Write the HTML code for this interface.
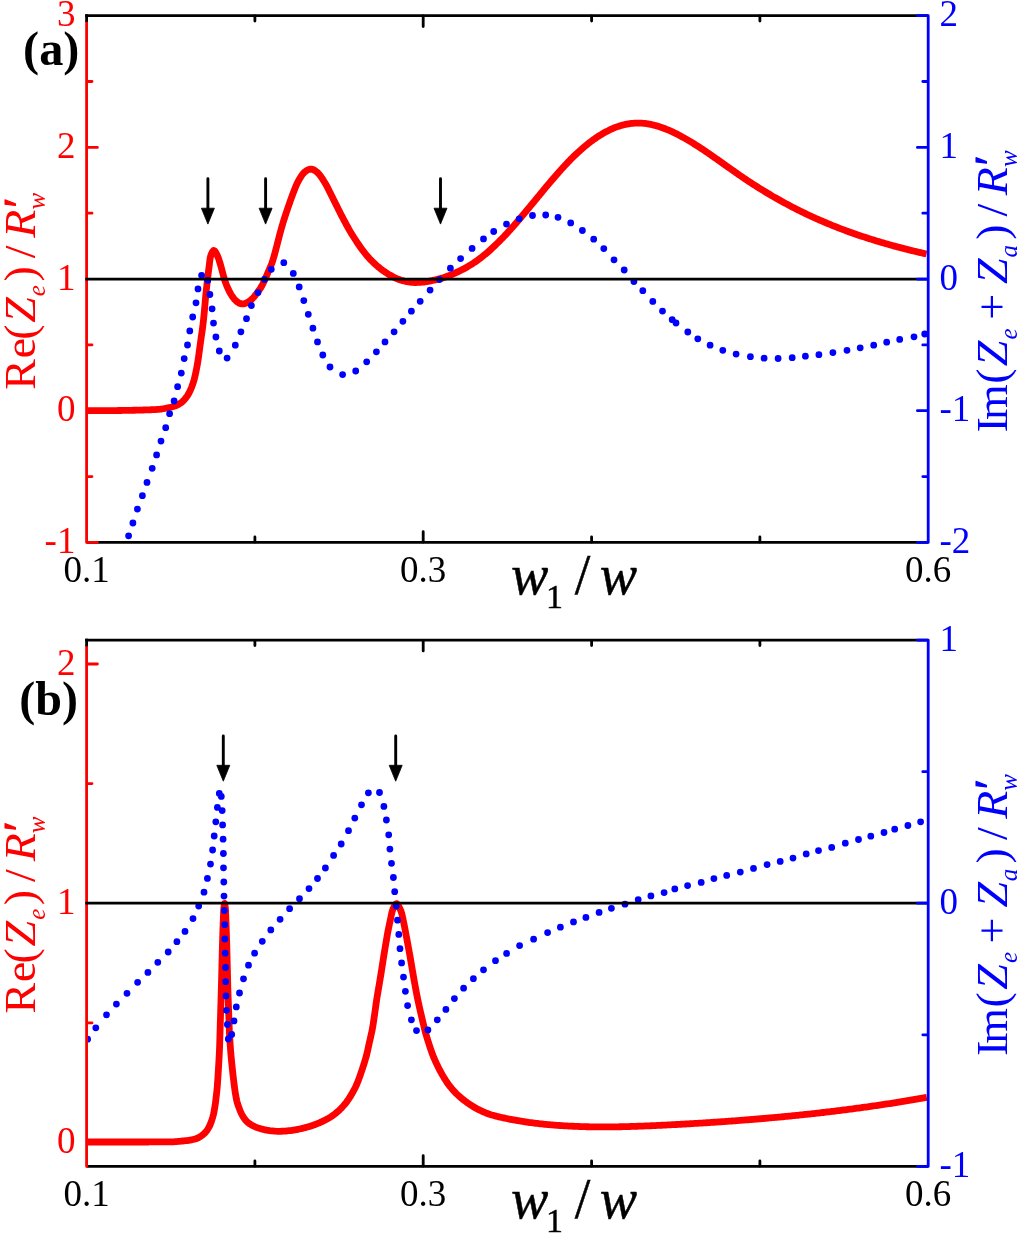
<!DOCTYPE html>
<html><head><meta charset="utf-8"><title>Figure</title>
<style>
html,body{margin:0;padding:0;background:#fff}
body{width:1020px;height:1234px;overflow:hidden}
svg text{font-family:"Liberation Serif","DejaVu Serif",serif}
</style></head><body>
<svg width="1020" height="1234" viewBox="0 0 1020 1234" style="display:block">
<rect width="100%" height="100%" fill="#fff"/>
<defs><clipPath id="ca"><rect x="86.6" y="15.7" width="841.6" height="526.6999999999999"/></clipPath><clipPath id="cb"><rect x="86.6" y="640.1" width="841.6" height="526.3000000000001"/></clipPath></defs>
<path clip-path="url(#ca)" d="M86.70,410.60 L88.20,410.61 L89.70,410.61 L91.20,410.62 L92.69,410.63 L94.19,410.63 L95.69,410.63 L97.19,410.63 L98.69,410.64 L100.19,410.63 L101.68,410.63 L103.18,410.63 L104.68,410.63 L106.18,410.62 L107.68,410.61 L109.17,410.61 L110.67,410.60 L112.17,410.58 L113.67,410.57 L115.17,410.56 L116.67,410.54 L118.16,410.52 L119.66,410.50 L121.16,410.48 L122.66,410.46 L124.16,410.44 L125.65,410.41 L127.15,410.38 L128.65,410.35 L130.15,410.32 L131.65,410.29 L133.14,410.26 L134.64,410.23 L136.14,410.19 L137.64,410.16 L139.14,410.12 L140.63,410.08 L142.13,410.04 L143.63,410.00 L145.13,409.95 L146.62,409.91 L148.12,409.86 L149.62,409.81 L151.12,409.76 L152.61,409.70 L154.11,409.63 L155.61,409.55 L157.10,409.46 L158.60,409.36 L160.09,409.21 L161.57,409.01 L163.05,408.76 L164.53,408.50 L166.00,408.23 L167.48,407.96 L168.94,407.64 L170.40,407.30 L171.84,406.92 L173.29,406.51 L174.73,406.06 L176.13,405.54 L177.49,404.91 L178.80,404.20 L180.09,403.39 L181.34,402.51 L182.51,401.55 L183.60,400.53 L184.61,399.44 L185.57,398.28 L186.47,397.06 L187.32,395.82 L188.12,394.56 L188.86,393.26 L189.53,391.92 L190.18,390.56 L190.79,389.19 L191.37,387.82 L191.91,386.42 L192.42,385.00 L192.91,383.59 L193.38,382.16 L193.82,380.73 L194.22,379.29 L194.59,377.84 L194.93,376.38 L195.27,374.92 L195.59,373.46 L195.90,371.99 L196.20,370.52 L196.48,369.05 L196.77,367.58 L197.05,366.11 L197.32,364.63 L197.58,363.16 L197.81,361.68 L198.04,360.20 L198.27,358.72 L198.49,357.23 L198.70,355.75 L198.90,354.27 L199.11,352.78 L199.31,351.30 L199.51,349.81 L199.71,348.33 L199.91,346.84 L200.11,345.36 L200.32,343.87 L200.52,342.39 L200.72,340.91 L200.92,339.42 L201.12,337.94 L201.33,336.45 L201.56,334.97 L201.79,333.49 L202.01,332.01 L202.23,330.53 L202.43,329.04 L202.62,327.55 L202.80,326.07 L202.98,324.58 L203.15,323.09 L203.31,321.60 L203.47,320.11 L203.63,318.62 L203.78,317.13 L203.93,315.64 L204.08,314.15 L204.23,312.66 L204.37,311.17 L204.51,309.68 L204.65,308.18 L204.78,306.69 L204.91,305.20 L205.04,303.71 L205.16,302.21 L205.29,300.72 L205.42,299.23 L205.56,297.73 L205.69,296.24 L205.84,294.75 L205.98,293.26 L206.14,291.77 L206.30,290.28 L206.46,288.79 L206.62,287.30 L206.79,285.81 L206.95,284.32 L207.12,282.83 L207.29,281.35 L207.46,279.86 L207.63,278.37 L207.80,276.88 L207.98,275.39 L208.17,273.91 L208.35,272.42 L208.54,270.93 L208.73,269.45 L208.92,267.96 L209.11,266.47 L209.30,264.99 L209.48,263.50 L209.65,262.02 L209.81,260.55 L210.01,259.08 L210.27,257.62 L210.63,256.15 L211.12,254.69 L211.79,253.14 L212.68,251.47 L213.62,250.43 L214.48,250.70 L215.34,251.73 L216.18,253.17 L216.96,254.75 L217.63,256.22 L218.22,257.64 L218.74,259.05 L219.21,260.47 L219.65,261.89 L220.06,263.31 L220.47,264.74 L220.88,266.17 L221.29,267.62 L221.68,269.06 L222.06,270.51 L222.44,271.96 L222.82,273.41 L223.20,274.86 L223.59,276.30 L223.99,277.75 L224.41,279.19 L224.85,280.62 L225.34,282.03 L225.86,283.44 L226.40,284.83 L226.98,286.21 L227.57,287.59 L228.17,288.97 L228.80,290.34 L229.46,291.68 L230.18,292.99 L230.94,294.27 L231.74,295.53 L232.58,296.78 L233.47,298.02 L234.40,299.21 L235.40,300.28 L236.50,301.26 L237.72,302.17 L239.08,303.02 L240.53,303.63 L242.00,303.90 L243.43,303.84 L244.85,303.56 L246.27,303.08 L247.66,302.40 L249.01,301.52 L250.28,300.54 L251.44,299.55 L252.51,298.52 L253.51,297.47 L254.46,296.36 L255.39,295.20 L256.31,294.00 L257.22,292.79 L258.12,291.58 L259.00,290.37 L259.85,289.14 L260.66,287.88 L261.43,286.61 L262.15,285.29 L262.82,283.95 L263.46,282.59 L264.10,281.23 L264.73,279.87 L265.35,278.51 L265.96,277.15 L266.56,275.78 L267.16,274.40 L267.75,273.03 L268.34,271.65 L268.93,270.27 L269.53,268.89 L270.12,267.52 L270.71,266.14 L271.28,264.75 L271.82,263.36 L272.33,261.95 L272.79,260.52 L273.22,259.08 L273.64,257.64 L274.05,256.20 L274.45,254.76 L274.85,253.31 L275.23,251.87 L275.62,250.42 L276.00,248.97 L276.37,247.52 L276.75,246.07 L277.13,244.62 L277.50,243.17 L277.88,241.72 L278.25,240.27 L278.62,238.81 L278.99,237.36 L279.37,235.91 L279.75,234.46 L280.13,233.01 L280.52,231.57 L280.91,230.12 L281.31,228.68 L281.72,227.24 L282.14,225.80 L282.56,224.36 L282.98,222.92 L283.42,221.49 L283.86,220.06 L284.31,218.63 L284.77,217.20 L285.23,215.78 L285.70,214.35 L286.17,212.93 L286.65,211.51 L287.14,210.09 L287.62,208.68 L288.11,207.26 L288.59,205.84 L289.08,204.42 L289.57,203.01 L290.06,201.59 L290.56,200.18 L291.06,198.77 L291.58,197.36 L292.10,195.96 L292.63,194.56 L293.16,193.16 L293.70,191.76 L294.25,190.37 L294.79,188.97 L295.34,187.57 L295.89,186.17 L296.47,184.80 L297.09,183.44 L297.76,182.11 L298.46,180.80 L299.20,179.50 L299.97,178.22 L300.78,176.94 L301.62,175.67 L302.48,174.40 L303.43,173.25 L304.47,172.23 L305.63,171.29 L306.91,170.41 L308.31,169.62 L309.78,169.15 L311.23,169.10 L312.63,169.41 L314.02,169.98 L315.36,170.79 L316.62,171.80 L317.76,172.84 L318.79,173.91 L319.74,175.02 L320.62,176.20 L321.46,177.44 L322.29,178.70 L323.12,179.96 L323.93,181.22 L324.73,182.48 L325.51,183.76 L326.25,185.06 L326.97,186.37 L327.65,187.70 L328.32,189.04 L328.98,190.39 L329.65,191.73 L330.31,193.07 L330.98,194.41 L331.64,195.76 L332.31,197.10 L332.97,198.44 L333.64,199.78 L334.31,201.12 L334.98,202.46 L335.65,203.80 L336.32,205.14 L336.99,206.48 L337.66,207.82 L338.33,209.16 L339.00,210.50 L339.67,211.84 L340.34,213.18 L341.02,214.52 L341.70,215.85 L342.39,217.18 L343.09,218.51 L343.79,219.83 L344.49,221.16 L345.20,222.48 L345.92,223.79 L346.63,225.11 L347.35,226.42 L348.08,227.74 L348.81,229.05 L349.55,230.35 L350.30,231.64 L351.07,232.93 L351.86,234.20 L352.65,235.47 L353.45,236.74 L354.26,238.00 L355.07,239.26 L355.89,240.51 L356.72,241.77 L357.54,243.02 L358.38,244.27 L359.23,245.50 L360.09,246.73 L360.96,247.94 L361.84,249.15 L362.74,250.35 L363.64,251.55 L364.56,252.73 L365.49,253.92 L366.44,255.08 L367.41,256.22 L368.40,257.34 L369.41,258.45 L370.44,259.54 L371.48,260.61 L372.54,261.67 L373.62,262.72 L374.71,263.76 L375.81,264.78 L376.93,265.77 L378.06,266.75 L379.22,267.70 L380.39,268.64 L381.57,269.56 L382.78,270.45 L384.01,271.32 L385.25,272.16 L386.50,272.98 L387.77,273.77 L389.05,274.54 L390.35,275.30 L391.66,276.04 L392.98,276.75 L394.31,277.42 L395.66,278.07 L397.03,278.67 L398.43,279.24 L399.84,279.77 L401.27,280.24 L402.71,280.65 L404.16,281.01 L405.62,281.33 L407.10,281.61 L408.59,281.86 L410.08,282.08 L411.57,282.26 L413.06,282.40 L414.55,282.48 L416.05,282.50 L417.54,282.47 L419.03,282.41 L420.53,282.32 L422.03,282.19 L423.52,282.02 L425.01,281.81 L426.50,281.58 L427.97,281.34 L429.45,281.08 L430.92,280.80 L432.38,280.51 L433.85,280.19 L435.32,279.87 L436.77,279.52 L438.22,279.16 L439.67,278.78 L441.12,278.37 L442.55,277.94 L443.99,277.49 L445.41,277.01 L446.82,276.51 L448.22,275.98 L449.61,275.44 L451.00,274.87 L452.38,274.29 L453.76,273.69 L455.13,273.08 L456.50,272.45 L457.85,271.81 L459.20,271.16 L460.54,270.49 L461.88,269.81 L463.20,269.12 L464.52,268.41 L465.83,267.68 L467.13,266.94 L468.43,266.18 L469.72,265.40 L471.00,264.62 L472.27,263.82 L473.53,263.01 L474.77,262.18 L476.01,261.34 L477.24,260.48 L478.45,259.60 L479.65,258.71 L480.85,257.79 L482.03,256.86 L483.20,255.93 L484.37,254.98 L485.52,254.02 L486.66,253.06 L487.80,252.08 L488.93,251.10 L490.04,250.10 L491.15,249.10 L492.25,248.08 L493.34,247.05 L494.43,246.01 L495.51,244.97 L496.58,243.92 L497.66,242.88 L498.72,241.83 L499.79,240.77 L500.84,239.71 L501.90,238.64 L502.94,237.57 L503.98,236.49 L505.01,235.40 L506.03,234.31 L507.04,233.20 L508.05,232.09 L509.06,230.98 L510.07,229.87 L511.07,228.76 L512.08,227.65 L513.07,226.53 L514.07,225.41 L515.06,224.29 L516.04,223.16 L517.02,222.03 L518.00,220.89 L518.97,219.74 L519.93,218.60 L520.89,217.45 L521.86,216.30 L522.82,215.15 L523.78,214.00 L524.74,212.85 L525.70,211.70 L526.66,210.55 L527.62,209.40 L528.58,208.25 L529.54,207.10 L530.49,205.95 L531.45,204.79 L532.40,203.64 L533.36,202.48 L534.31,201.33 L535.26,200.17 L536.22,199.01 L537.17,197.86 L538.12,196.70 L539.07,195.54 L540.02,194.38 L540.97,193.23 L541.93,192.07 L542.88,190.91 L543.83,189.76 L544.79,188.60 L545.74,187.45 L546.70,186.30 L547.67,185.15 L548.63,184.01 L549.60,182.87 L550.57,181.73 L551.55,180.59 L552.52,179.45 L553.50,178.31 L554.47,177.18 L555.45,176.04 L556.43,174.91 L557.41,173.77 L558.40,172.64 L559.39,171.52 L560.38,170.40 L561.39,169.29 L562.40,168.18 L563.41,167.08 L564.44,165.99 L565.46,164.90 L566.49,163.81 L567.53,162.72 L568.56,161.64 L569.60,160.56 L570.64,159.48 L571.70,158.41 L572.76,157.35 L573.83,156.31 L574.91,155.27 L576.00,154.24 L577.09,153.22 L578.19,152.21 L579.30,151.20 L580.42,150.20 L581.54,149.20 L582.67,148.21 L583.80,147.22 L584.94,146.25 L586.10,145.30 L587.26,144.36 L588.44,143.43 L589.62,142.52 L590.82,141.62 L592.02,140.73 L593.23,139.84 L594.45,138.97 L595.68,138.10 L596.92,137.24 L598.17,136.41 L599.43,135.61 L600.70,134.82 L601.98,134.05 L603.28,133.31 L604.58,132.57 L605.90,131.86 L607.23,131.15 L608.57,130.46 L609.92,129.79 L611.28,129.15 L612.65,128.54 L614.03,127.97 L615.42,127.42 L616.82,126.90 L618.23,126.41 L619.67,125.95 L621.11,125.51 L622.57,125.10 L624.04,124.73 L625.50,124.40 L626.97,124.10 L628.45,123.84 L629.92,123.61 L631.41,123.42 L632.90,123.27 L634.39,123.15 L635.89,123.07 L637.39,123.03 L638.89,123.04 L640.39,123.10 L641.88,123.20 L643.37,123.33 L644.86,123.48 L646.34,123.67 L647.83,123.88 L649.31,124.13 L650.78,124.42 L652.26,124.75 L653.72,125.10 L655.17,125.47 L656.62,125.87 L658.05,126.29 L659.48,126.73 L660.90,127.20 L662.32,127.69 L663.73,128.21 L665.13,128.75 L666.53,129.31 L667.92,129.88 L669.30,130.46 L670.67,131.06 L672.04,131.67 L673.39,132.30 L674.74,132.95 L676.08,133.62 L677.42,134.31 L678.74,135.01 L680.07,135.72 L681.39,136.43 L682.70,137.14 L684.02,137.87 L685.32,138.60 L686.62,139.34 L687.92,140.09 L689.21,140.85 L690.49,141.62 L691.77,142.40 L693.04,143.20 L694.31,144.00 L695.58,144.80 L696.84,145.60 L698.11,146.41 L699.36,147.22 L700.62,148.04 L701.87,148.86 L703.12,149.69 L704.36,150.52 L705.60,151.37 L706.83,152.22 L708.07,153.07 L709.30,153.92 L710.53,154.77 L711.77,155.62 L713.00,156.48 L714.23,157.33 L715.46,158.19 L716.68,159.05 L717.91,159.91 L719.13,160.77 L720.36,161.64 L721.58,162.51 L722.80,163.37 L724.02,164.24 L725.24,165.11 L726.46,165.98 L727.69,166.84 L728.91,167.71 L730.13,168.58 L731.36,169.44 L732.58,170.30 L733.81,171.16 L735.04,172.02 L736.27,172.87 L737.50,173.73 L738.73,174.58 L739.96,175.43 L741.20,176.28 L742.43,177.13 L743.67,177.98 L744.90,178.82 L746.15,179.66 L747.39,180.49 L748.64,181.32 L749.89,182.14 L751.15,182.96 L752.41,183.78 L753.67,184.59 L754.93,185.39 L756.19,186.20 L757.46,187.00 L758.73,187.80 L760.00,188.60 L761.27,189.39 L762.55,190.17 L763.82,190.95 L765.10,191.73 L766.39,192.50 L767.67,193.27 L768.96,194.04 L770.25,194.80 L771.54,195.56 L772.84,196.32 L774.13,197.07 L775.43,197.81 L776.73,198.55 L778.04,199.29 L779.34,200.03 L780.65,200.76 L781.96,201.48 L783.28,202.20 L784.59,202.92 L785.91,203.63 L787.23,204.34 L788.55,205.05 L789.88,205.75 L791.20,206.44 L792.53,207.14 L793.86,207.82 L795.20,208.51 L796.53,209.19 L797.87,209.86 L799.21,210.53 L800.55,211.20 L801.90,211.86 L803.25,212.51 L804.59,213.17 L805.95,213.81 L807.30,214.46 L808.65,215.10 L810.01,215.73 L811.37,216.36 L812.73,216.99 L814.10,217.61 L815.46,218.23 L816.83,218.84 L818.20,219.45 L819.57,220.05 L820.94,220.65 L822.32,221.24 L823.70,221.83 L825.07,222.42 L826.46,223.00 L827.84,223.58 L829.22,224.15 L830.61,224.72 L832.00,225.28 L833.39,225.84 L834.78,226.40 L836.17,226.95 L837.57,227.49 L838.96,228.04 L840.36,228.58 L841.76,229.11 L843.16,229.64 L844.57,230.17 L845.97,230.69 L847.38,231.20 L848.79,231.72 L850.19,232.23 L851.60,232.73 L853.02,233.23 L854.43,233.73 L855.84,234.22 L857.26,234.71 L858.68,235.20 L860.10,235.68 L861.52,236.15 L862.94,236.63 L864.36,237.09 L865.79,237.56 L867.21,238.02 L868.64,238.48 L870.07,238.93 L871.50,239.38 L872.93,239.83 L874.36,240.27 L875.79,240.71 L877.23,241.15 L878.66,241.58 L880.10,242.01 L881.53,242.43 L882.97,242.85 L884.41,243.27 L885.85,243.68 L887.29,244.09 L888.73,244.50 L890.18,244.91 L891.62,245.31 L893.06,245.70 L894.51,246.10 L895.95,246.49 L897.40,246.88 L898.85,247.26 L900.30,247.65 L901.75,248.02 L903.20,248.40 L904.65,248.77 L906.10,249.14 L907.55,249.51 L909.01,249.87 L910.46,250.23 L911.92,250.59 L913.37,250.94 L914.83,251.30 L916.29,251.65 L917.74,252.00 L919.20,252.34 L920.66,252.68 L922.12,253.02 L923.58,253.36 L925.04,253.70 L926.50,254.03" stroke="#f00" stroke-width="6.8" fill="none" stroke-linejoin="round" stroke-linecap="butt"/>
<path clip-path="url(#cb)" d="M86.70,1142.00 L88.20,1142.00 L89.70,1142.00 L91.20,1142.00 L92.70,1142.01 L94.20,1142.01 L95.69,1142.01 L97.19,1142.01 L98.69,1142.01 L100.19,1142.01 L101.69,1142.01 L103.19,1142.01 L104.69,1142.01 L106.19,1142.01 L107.69,1142.01 L109.19,1142.01 L110.69,1142.01 L112.18,1142.01 L113.68,1142.01 L115.18,1142.00 L116.68,1142.00 L118.18,1142.00 L119.68,1142.00 L121.18,1142.00 L122.68,1142.00 L124.18,1142.00 L125.68,1142.00 L127.18,1142.00 L128.68,1142.00 L130.17,1142.00 L131.67,1142.00 L133.17,1142.00 L134.67,1142.00 L136.17,1142.00 L137.67,1142.00 L139.17,1141.99 L140.67,1141.99 L142.17,1141.99 L143.67,1141.99 L145.17,1141.98 L146.66,1141.98 L148.16,1141.98 L149.66,1141.97 L151.16,1141.97 L152.66,1141.96 L154.16,1141.96 L155.66,1141.96 L157.16,1141.95 L158.66,1141.95 L160.16,1141.94 L161.66,1141.93 L163.15,1141.93 L164.65,1141.92 L166.15,1141.92 L167.65,1141.91 L169.15,1141.90 L170.65,1141.89 L172.15,1141.85 L173.64,1141.78 L175.14,1141.68 L176.63,1141.57 L178.13,1141.43 L179.62,1141.29 L181.12,1141.15 L182.61,1141.00 L184.10,1140.86 L185.59,1140.70 L187.08,1140.52 L188.56,1140.30 L190.04,1140.06 L191.51,1139.79 L192.99,1139.49 L194.46,1139.16 L195.91,1138.76 L197.30,1138.22 L198.64,1137.57 L199.94,1136.81 L201.22,1135.96 L202.47,1135.06 L203.65,1134.10 L204.73,1133.08 L205.74,1131.99 L206.68,1130.81 L207.53,1129.54 L208.33,1128.24 L209.06,1126.93 L209.73,1125.60 L210.34,1124.24 L210.90,1122.85 L211.40,1121.43 L211.87,1120.00 L212.33,1118.57 L212.77,1117.13 L213.17,1115.69 L213.52,1114.24 L213.83,1112.77 L214.10,1111.29 L214.35,1109.82 L214.61,1108.34 L214.85,1106.86 L215.08,1105.38 L215.31,1103.90 L215.52,1102.41 L215.72,1100.93 L215.90,1099.44 L216.07,1097.95 L216.25,1096.46 L216.42,1094.97 L216.58,1093.48 L216.75,1091.99 L216.91,1090.50 L217.05,1089.01 L217.19,1087.51 L217.32,1086.02 L217.43,1084.53 L217.53,1083.03 L217.63,1081.53 L217.74,1080.04 L217.84,1078.54 L217.93,1077.05 L218.03,1075.55 L218.12,1074.06 L218.22,1072.56 L218.31,1071.06 L218.40,1069.57 L218.49,1068.07 L218.58,1066.57 L218.67,1065.08 L218.75,1063.58 L218.84,1062.08 L218.93,1060.59 L219.01,1059.09 L219.09,1057.59 L219.17,1056.10 L219.25,1054.60 L219.32,1053.10 L219.39,1051.60 L219.46,1050.11 L219.52,1048.61 L219.58,1047.11 L219.64,1045.61 L219.69,1044.11 L219.73,1042.62 L219.78,1041.12 L219.82,1039.62 L219.86,1038.12 L219.91,1036.62 L219.95,1035.12 L219.99,1033.63 L220.04,1032.13 L220.08,1030.63 L220.13,1029.13 L220.17,1027.63 L220.22,1026.13 L220.26,1024.63 L220.31,1023.14 L220.35,1021.64 L220.40,1020.14 L220.44,1018.64 L220.49,1017.14 L220.53,1015.64 L220.58,1014.15 L220.62,1012.65 L220.67,1011.15 L220.71,1009.65 L220.76,1008.15 L220.80,1006.65 L220.85,1005.15 L220.89,1003.66 L220.94,1002.16 L220.99,1000.66 L221.03,999.16 L221.08,997.66 L221.12,996.16 L221.17,994.67 L221.21,993.17 L221.25,991.67 L221.30,990.17 L221.34,988.67 L221.38,987.17 L221.41,985.67 L221.45,984.18 L221.49,982.68 L221.53,981.18 L221.56,979.68 L221.60,978.18 L221.64,976.68 L221.67,975.18 L221.71,973.69 L221.75,972.19 L221.78,970.69 L221.82,969.19 L221.86,967.69 L221.90,966.19 L221.93,964.69 L221.97,963.19 L222.01,961.70 L222.05,960.20 L222.08,958.70 L222.12,957.20 L222.16,955.70 L222.19,954.20 L222.23,952.70 L222.27,951.21 L222.31,949.71 L222.35,948.21 L222.39,946.71 L222.43,945.21 L222.47,943.71 L222.52,942.21 L222.56,940.72 L222.61,939.22 L222.65,937.72 L222.70,936.22 L222.75,934.72 L222.80,933.22 L222.84,931.73 L222.89,930.23 L222.94,928.73 L222.99,927.23 L223.05,925.73 L223.11,924.23 L223.17,922.74 L223.23,921.24 L223.30,919.74 L223.36,918.24 L223.43,916.75 L223.49,915.25 L223.54,913.75 L223.58,912.25 L223.64,910.76 L223.73,909.26 L223.89,907.77 L224.12,906.16 L224.37,904.27 L224.61,903.40 L224.86,904.45 L225.11,906.36 L225.33,907.93 L225.48,909.42 L225.57,910.92 L225.62,912.41 L225.66,913.91 L225.72,915.41 L225.78,916.90 L225.85,918.40 L225.91,919.90 L225.97,921.40 L226.04,922.90 L226.10,924.39 L226.16,925.89 L226.21,927.39 L226.26,928.89 L226.31,930.39 L226.36,931.88 L226.41,933.38 L226.46,934.88 L226.50,936.38 L226.55,937.88 L226.60,939.38 L226.64,940.87 L226.69,942.37 L226.73,943.87 L226.78,945.37 L226.82,946.87 L226.86,948.37 L226.90,949.87 L226.93,951.36 L226.97,952.86 L227.01,954.36 L227.05,955.86 L227.08,957.36 L227.12,958.86 L227.16,960.36 L227.20,961.86 L227.23,963.35 L227.27,964.85 L227.31,966.35 L227.35,967.85 L227.38,969.35 L227.42,970.85 L227.46,972.35 L227.49,973.84 L227.53,975.34 L227.56,976.84 L227.60,978.34 L227.63,979.84 L227.67,981.34 L227.71,982.84 L227.74,984.34 L227.78,985.83 L227.82,987.33 L227.87,988.83 L227.91,990.33 L227.96,991.83 L228.00,993.33 L228.05,994.82 L228.11,996.32 L228.16,997.82 L228.21,999.32 L228.27,1000.82 L228.32,1002.32 L228.38,1003.81 L228.43,1005.31 L228.49,1006.81 L228.54,1008.31 L228.59,1009.81 L228.65,1011.30 L228.70,1012.80 L228.75,1014.30 L228.80,1015.80 L228.86,1017.30 L228.91,1018.79 L228.96,1020.29 L229.01,1021.79 L229.07,1023.29 L229.12,1024.79 L229.17,1026.29 L229.22,1027.78 L229.27,1029.28 L229.33,1030.78 L229.39,1032.28 L229.47,1033.78 L229.55,1035.27 L229.64,1036.77 L229.73,1038.27 L229.83,1039.76 L229.93,1041.26 L230.03,1042.75 L230.14,1044.25 L230.25,1045.74 L230.36,1047.24 L230.47,1048.73 L230.59,1050.23 L230.71,1051.72 L230.83,1053.22 L230.96,1054.71 L231.09,1056.20 L231.23,1057.70 L231.37,1059.19 L231.51,1060.68 L231.66,1062.17 L231.81,1063.66 L231.96,1065.16 L232.12,1066.65 L232.27,1068.14 L232.43,1069.63 L232.59,1071.12 L232.75,1072.61 L232.92,1074.10 L233.09,1075.59 L233.26,1077.08 L233.44,1078.57 L233.62,1080.06 L233.80,1081.54 L233.97,1083.03 L234.15,1084.52 L234.34,1086.01 L234.53,1087.49 L234.74,1088.98 L234.95,1090.46 L235.18,1091.94 L235.42,1093.42 L235.66,1094.90 L235.91,1096.38 L236.17,1097.86 L236.44,1099.34 L236.77,1100.80 L237.16,1102.24 L237.59,1103.67 L238.06,1105.09 L238.56,1106.51 L239.08,1107.93 L239.60,1109.34 L240.14,1110.75 L240.72,1112.13 L241.34,1113.48 L242.01,1114.81 L242.74,1116.11 L243.54,1117.40 L244.40,1118.66 L245.34,1119.89 L246.35,1121.03 L247.43,1122.08 L248.58,1123.04 L249.79,1123.92 L251.07,1124.72 L252.41,1125.45 L253.77,1126.13 L255.15,1126.76 L256.53,1127.34 L257.92,1127.87 L259.33,1128.35 L260.77,1128.78 L262.22,1129.15 L263.69,1129.50 L265.15,1129.83 L266.62,1130.14 L268.09,1130.41 L269.57,1130.65 L271.06,1130.84 L272.55,1130.99 L274.05,1131.12 L275.55,1131.22 L277.05,1131.28 L278.54,1131.31 L280.04,1131.30 L281.54,1131.26 L283.03,1131.20 L284.53,1131.11 L286.02,1131.01 L287.52,1130.87 L289.01,1130.72 L290.51,1130.54 L292.00,1130.33 L293.48,1130.11 L294.96,1129.87 L296.43,1129.61 L297.90,1129.33 L299.37,1129.03 L300.84,1128.72 L302.31,1128.38 L303.77,1128.03 L305.22,1127.65 L306.66,1127.26 L308.10,1126.84 L309.53,1126.41 L310.96,1125.95 L312.39,1125.48 L313.81,1124.99 L315.22,1124.48 L316.62,1123.94 L318.01,1123.38 L319.39,1122.80 L320.75,1122.19 L322.11,1121.56 L323.47,1120.91 L324.82,1120.24 L326.16,1119.55 L327.48,1118.84 L328.78,1118.09 L330.06,1117.32 L331.32,1116.51 L332.56,1115.67 L333.78,1114.79 L334.99,1113.88 L336.16,1112.93 L337.30,1111.96 L338.42,1110.97 L339.51,1109.94 L340.57,1108.88 L341.61,1107.80 L342.64,1106.69 L343.64,1105.58 L344.62,1104.44 L345.57,1103.29 L346.49,1102.11 L347.39,1100.90 L348.25,1099.67 L349.08,1098.42 L349.89,1097.16 L350.67,1095.88 L351.44,1094.60 L352.18,1093.29 L352.91,1091.98 L353.63,1090.66 L354.34,1089.33 L355.02,1088.00 L355.69,1086.66 L356.32,1085.30 L356.92,1083.93 L357.49,1082.54 L358.04,1081.14 L358.57,1079.74 L359.10,1078.34 L359.61,1076.93 L360.11,1075.52 L360.60,1074.10 L361.08,1072.68 L361.57,1071.26 L362.04,1069.84 L362.52,1068.42 L362.98,1066.99 L363.45,1065.57 L363.90,1064.14 L364.35,1062.71 L364.79,1061.27 L365.23,1059.84 L365.65,1058.40 L366.06,1056.96 L366.46,1055.51 L366.83,1054.06 L367.17,1052.60 L367.50,1051.14 L367.82,1049.67 L368.14,1048.21 L368.45,1046.74 L368.77,1045.28 L369.09,1043.81 L369.41,1042.35 L369.74,1040.89 L370.08,1039.43 L370.41,1037.96 L370.75,1036.50 L371.08,1035.04 L371.41,1033.58 L371.73,1032.12 L372.04,1030.65 L372.32,1029.18 L372.59,1027.70 L372.84,1026.22 L373.08,1024.74 L373.31,1023.26 L373.53,1021.78 L373.76,1020.29 L373.98,1018.81 L374.19,1017.33 L374.41,1015.84 L374.61,1014.36 L374.82,1012.87 L375.02,1011.39 L375.23,1009.90 L375.43,1008.42 L375.64,1006.93 L375.84,1005.45 L376.05,1003.96 L376.27,1002.48 L376.49,1001.00 L376.71,999.52 L376.95,998.03 L377.19,996.56 L377.43,995.08 L377.67,993.60 L377.92,992.12 L378.17,990.64 L378.42,989.16 L378.67,987.68 L378.92,986.21 L379.17,984.73 L379.42,983.25 L379.67,981.77 L379.91,980.29 L380.16,978.81 L380.40,977.33 L380.64,975.85 L380.88,974.37 L381.12,972.89 L381.35,971.41 L381.59,969.93 L381.82,968.45 L382.05,966.97 L382.29,965.49 L382.52,964.01 L382.75,962.53 L382.99,961.05 L383.22,959.57 L383.45,958.09 L383.69,956.61 L383.92,955.12 L384.16,953.64 L384.40,952.16 L384.64,950.68 L384.88,949.21 L385.13,947.73 L385.38,946.25 L385.62,944.77 L385.87,943.29 L386.13,941.81 L386.38,940.34 L386.63,938.86 L386.89,937.38 L387.14,935.90 L387.40,934.43 L387.66,932.95 L387.93,931.48 L388.22,930.00 L388.51,928.54 L388.81,927.07 L389.12,925.60 L389.43,924.13 L389.74,922.67 L390.05,921.20 L390.36,919.73 L390.67,918.26 L390.96,916.80 L391.24,915.35 L391.55,913.91 L391.89,912.47 L392.29,911.03 L392.78,909.60 L393.38,908.16 L394.12,906.66 L395.02,905.02 L395.97,903.83 L396.86,903.70 L397.73,904.57 L398.59,906.00 L399.40,907.60 L400.12,909.05 L400.73,910.48 L401.24,911.90 L401.68,913.32 L402.06,914.75 L402.40,916.18 L402.70,917.63 L403.00,919.10 L403.30,920.57 L403.59,922.04 L403.89,923.51 L404.18,924.98 L404.47,926.45 L404.76,927.92 L405.05,929.39 L405.33,930.86 L405.61,932.34 L405.89,933.81 L406.16,935.28 L406.44,936.76 L406.71,938.23 L406.99,939.71 L407.26,941.18 L407.54,942.65 L407.81,944.13 L408.08,945.60 L408.35,947.08 L408.62,948.55 L408.89,950.03 L409.16,951.50 L409.42,952.98 L409.69,954.45 L409.95,955.93 L410.20,957.41 L410.46,958.88 L410.71,960.36 L410.97,961.84 L411.22,963.32 L411.47,964.79 L411.72,966.27 L411.97,967.75 L412.22,969.23 L412.47,970.71 L412.72,972.18 L412.98,973.66 L413.24,975.14 L413.50,976.61 L413.75,978.09 L414.02,979.57 L414.28,981.04 L414.54,982.52 L414.81,983.99 L415.08,985.47 L415.34,986.94 L415.62,988.42 L415.89,989.89 L416.17,991.36 L416.45,992.84 L416.73,994.31 L417.02,995.78 L417.31,997.25 L417.61,998.72 L417.91,1000.19 L418.22,1001.66 L418.53,1003.12 L418.85,1004.59 L419.17,1006.05 L419.50,1007.51 L419.83,1008.98 L420.17,1010.44 L420.51,1011.90 L420.85,1013.36 L421.19,1014.82 L421.53,1016.28 L421.87,1017.74 L422.21,1019.20 L422.55,1020.66 L422.90,1022.12 L423.24,1023.57 L423.60,1025.03 L423.95,1026.49 L424.31,1027.94 L424.68,1029.40 L425.05,1030.85 L425.43,1032.30 L425.83,1033.75 L426.24,1035.19 L426.66,1036.63 L427.10,1038.06 L427.54,1039.49 L427.99,1040.92 L428.44,1042.35 L428.89,1043.78 L429.35,1045.21 L429.82,1046.64 L430.29,1048.06 L430.78,1049.47 L431.28,1050.89 L431.78,1052.30 L432.30,1053.71 L432.83,1055.11 L433.37,1056.51 L433.94,1057.90 L434.53,1059.28 L435.14,1060.65 L435.76,1062.01 L436.39,1063.37 L437.04,1064.72 L437.70,1066.07 L438.36,1067.42 L439.03,1068.76 L439.72,1070.09 L440.43,1071.41 L441.15,1072.72 L441.88,1074.03 L442.63,1075.33 L443.39,1076.62 L444.16,1077.91 L444.94,1079.20 L445.75,1080.47 L446.57,1081.72 L447.42,1082.95 L448.29,1084.17 L449.18,1085.37 L450.10,1086.55 L451.04,1087.72 L452.00,1088.88 L452.99,1090.02 L454.00,1091.15 L455.03,1092.25 L456.08,1093.32 L457.16,1094.37 L458.25,1095.39 L459.36,1096.39 L460.49,1097.36 L461.64,1098.32 L462.80,1099.27 L463.99,1100.20 L465.19,1101.12 L466.40,1102.02 L467.62,1102.91 L468.85,1103.77 L470.08,1104.61 L471.33,1105.44 L472.59,1106.24 L473.87,1107.01 L475.16,1107.77 L476.48,1108.50 L477.81,1109.20 L479.16,1109.88 L480.52,1110.55 L481.88,1111.19 L483.25,1111.81 L484.63,1112.40 L486.02,1112.97 L487.41,1113.50 L488.82,1114.01 L490.24,1114.48 L491.68,1114.92 L493.12,1115.32 L494.57,1115.72 L496.02,1116.10 L497.48,1116.47 L498.93,1116.84 L500.39,1117.19 L501.85,1117.53 L503.31,1117.86 L504.77,1118.17 L506.24,1118.47 L507.71,1118.76 L509.19,1119.04 L510.66,1119.33 L512.13,1119.61 L513.60,1119.88 L515.08,1120.15 L516.55,1120.42 L518.03,1120.67 L519.51,1120.92 L520.99,1121.16 L522.47,1121.40 L523.95,1121.64 L525.43,1121.87 L526.91,1122.09 L528.40,1122.31 L529.88,1122.52 L531.37,1122.72 L532.85,1122.92 L534.34,1123.11 L535.83,1123.29 L537.32,1123.46 L538.81,1123.63 L540.30,1123.80 L541.79,1123.95 L543.28,1124.11 L544.77,1124.26 L546.26,1124.40 L547.76,1124.54 L549.25,1124.68 L550.74,1124.81 L552.24,1124.94 L553.73,1125.06 L555.23,1125.18 L556.72,1125.29 L558.21,1125.40 L559.71,1125.51 L561.21,1125.61 L562.70,1125.71 L564.20,1125.80 L565.69,1125.89 L567.19,1125.97 L568.69,1126.05 L570.19,1126.12 L571.69,1126.20 L573.18,1126.26 L574.68,1126.33 L576.18,1126.39 L577.68,1126.45 L579.18,1126.50 L580.68,1126.56 L582.18,1126.60 L583.67,1126.65 L585.17,1126.69 L586.67,1126.73 L588.17,1126.76 L589.67,1126.80 L591.17,1126.82 L592.67,1126.85 L594.17,1126.87 L595.66,1126.88 L597.16,1126.89 L598.66,1126.90 L600.16,1126.91 L601.66,1126.91 L603.16,1126.90 L604.66,1126.90 L606.16,1126.89 L607.65,1126.88 L609.15,1126.87 L610.65,1126.86 L612.15,1126.85 L613.65,1126.83 L615.15,1126.82 L616.65,1126.80 L618.15,1126.78 L619.65,1126.75 L621.15,1126.73 L622.64,1126.70 L624.14,1126.67 L625.64,1126.63 L627.14,1126.60 L628.64,1126.56 L630.14,1126.51 L631.64,1126.47 L633.14,1126.42 L634.64,1126.37 L636.13,1126.31 L637.63,1126.26 L639.13,1126.20 L640.63,1126.14 L642.13,1126.09 L643.63,1126.03 L645.12,1125.97 L646.62,1125.91 L648.12,1125.85 L649.62,1125.79 L651.11,1125.73 L652.61,1125.66 L654.11,1125.60 L655.61,1125.53 L657.10,1125.46 L658.60,1125.40 L660.10,1125.33 L661.60,1125.26 L663.09,1125.18 L664.59,1125.11 L666.09,1125.04 L667.59,1124.96 L669.08,1124.88 L670.58,1124.80 L672.08,1124.72 L673.57,1124.65 L675.07,1124.57 L676.57,1124.49 L678.07,1124.41 L679.56,1124.33 L681.06,1124.24 L682.56,1124.16 L684.05,1124.08 L685.55,1124.00 L687.05,1123.91 L688.54,1123.83 L690.04,1123.74 L691.54,1123.65 L693.03,1123.57 L694.53,1123.48 L696.03,1123.39 L697.52,1123.30 L699.02,1123.21 L700.51,1123.12 L702.01,1123.03 L703.51,1122.93 L705.00,1122.84 L706.50,1122.74 L708.00,1122.65 L709.49,1122.55 L710.99,1122.45 L712.48,1122.35 L713.98,1122.26 L715.48,1122.16 L716.97,1122.06 L718.47,1121.95 L719.96,1121.85 L721.46,1121.75 L722.95,1121.64 L724.45,1121.54 L725.94,1121.43 L727.44,1121.33 L728.93,1121.22 L730.43,1121.11 L731.93,1121.01 L733.42,1120.90 L734.92,1120.79 L736.41,1120.67 L737.91,1120.56 L739.40,1120.45 L740.90,1120.33 L742.39,1120.22 L743.88,1120.10 L745.38,1119.98 L746.87,1119.87 L748.37,1119.75 L749.86,1119.63 L751.36,1119.50 L752.85,1119.38 L754.34,1119.26 L755.84,1119.14 L757.33,1119.01 L758.83,1118.88 L760.32,1118.76 L761.81,1118.63 L763.31,1118.50 L764.80,1118.37 L766.29,1118.24 L767.79,1118.11 L769.28,1117.98 L770.77,1117.85 L772.27,1117.71 L773.76,1117.58 L775.25,1117.44 L776.75,1117.30 L778.24,1117.16 L779.73,1117.02 L781.22,1116.88 L782.72,1116.74 L784.21,1116.60 L785.70,1116.45 L787.19,1116.31 L788.68,1116.16 L790.18,1116.01 L791.67,1115.86 L793.16,1115.71 L794.65,1115.56 L796.14,1115.41 L797.63,1115.26 L799.13,1115.11 L800.62,1114.95 L802.11,1114.80 L803.60,1114.64 L805.09,1114.49 L806.58,1114.33 L808.07,1114.17 L809.56,1114.01 L811.05,1113.84 L812.54,1113.68 L814.03,1113.51 L815.52,1113.35 L817.01,1113.18 L818.50,1113.01 L819.99,1112.84 L821.48,1112.67 L822.97,1112.50 L824.46,1112.33 L825.95,1112.15 L827.44,1111.98 L828.92,1111.80 L830.41,1111.63 L831.90,1111.45 L833.39,1111.27 L834.88,1111.09 L836.37,1110.91 L837.86,1110.73 L839.34,1110.54 L840.83,1110.36 L842.32,1110.17 L843.81,1109.98 L845.29,1109.79 L846.78,1109.60 L848.27,1109.41 L849.75,1109.22 L851.24,1109.02 L852.73,1108.83 L854.21,1108.63 L855.70,1108.43 L857.18,1108.23 L858.67,1108.03 L860.15,1107.83 L861.64,1107.63 L863.13,1107.42 L864.61,1107.22 L866.10,1107.01 L867.58,1106.80 L869.06,1106.60 L870.55,1106.39 L872.03,1106.17 L873.52,1105.96 L875.00,1105.75 L876.48,1105.53 L877.97,1105.31 L879.45,1105.09 L880.93,1104.87 L882.42,1104.65 L883.90,1104.43 L885.38,1104.21 L886.86,1103.98 L888.35,1103.76 L889.83,1103.53 L891.31,1103.30 L892.79,1103.07 L894.27,1102.84 L895.75,1102.61 L897.23,1102.37 L898.71,1102.14 L900.19,1101.90 L901.67,1101.66 L903.15,1101.43 L904.63,1101.18 L906.11,1100.94 L907.59,1100.70 L909.07,1100.45 L910.55,1100.21 L912.03,1099.96 L913.51,1099.71 L914.98,1099.46 L916.46,1099.21 L917.94,1098.95 L919.42,1098.70 L920.89,1098.44 L922.37,1098.18 L923.85,1097.93 L925.32,1097.66 L926.80,1097.40" stroke="#f00" stroke-width="6.8" fill="none" stroke-linejoin="round" stroke-linecap="butt"/>
<path clip-path="url(#ca)" d="M128.6,535.8h0 M132.9,523.0h0 M137.4,509.1h0 M142.4,495.7h0 M147.0,482.4h0 M152.2,468.3h0 M156.6,454.9h0 M161.0,441.1h0 M165.7,427.7h0 M169.6,413.7h0 M174.1,401.0h0 M177.6,386.7h0 M181.3,373.1h0 M184.2,358.6h0 M187.5,345.0h0 M189.8,330.9h0 M192.7,317.0h0 M196.0,302.8h0 M198.0,288.9h0 M201.6,275.3h0 M207.7,280.4h0 M209.9,294.5h0 M212.1,308.8h0 M213.5,323.1h0 M215.9,337.0h0 M219.3,351.0h0 M227.1,358.1h0 M235.3,345.2h0 M240.9,331.8h0 M246.5,318.7h0 M251.4,305.6h0 M258.0,292.6h0 M264.5,279.5h0 M271.3,269.3h0 M283.8,262.7h0 M293.3,273.4h0 M299.2,286.9h0 M303.8,300.6h0 M308.3,314.3h0 M312.9,328.2h0 M317.5,341.9h0 M322.8,355.0h0 M330.0,367.0h0 M342.6,374.6h0 M355.7,371.0h0 M366.7,361.8h0 M376.4,351.8h0 M385.0,341.9h0 M394.1,331.8h0 M402.9,321.3h0 M411.4,311.2h0 M420.2,301.3h0 M430.1,290.1h0 M439.5,279.6h0 M450.4,268.2h0 M460.6,258.6h0 M472.1,248.4h0 M483.5,238.9h0 M493.7,231.5h0 M506.5,224.1h0 M519.2,218.8h0 M532.5,215.5h0 M545.7,215.0h0 M558.0,217.3h0 M570.7,222.9h0 M582.4,230.5h0 M593.7,239.2h0 M603.8,248.6h0 M614.0,259.8h0 M624.2,270.0h0 M633.9,281.5h0 M642.8,290.7h0 M652.8,301.4h0 M662.5,311.1h0 M672.2,319.7h0 M676.0,323.0h0 M687.8,332.0h0 M697.8,338.8h0 M710.1,345.2h0 M722.8,350.3h0 M736.1,354.1h0 M750.4,356.7h0 M764.1,358.2h0 M778.1,358.5h0 M792.2,357.7h0 M805.4,356.2h0 M818.9,354.7h0 M832.9,352.6h0 M847.0,350.3h0 M860.2,347.8h0 M873.7,345.2h0 M886.7,342.2h0 M899.7,339.4h0 M914.0,336.8h0 M924.7,334.0h0" stroke="#00f" stroke-width="6.8" fill="none" stroke-linecap="round"/>
<path clip-path="url(#cb)" d="M87.6,1039.2h0 M95.8,1027.8h0 M106.5,1014.8h0 M116.4,1004.1h0 M127.0,993.3h0 M137.6,982.3h0 M147.9,972.4h0 M157.8,962.3h0 M168.2,952.0h0 M176.9,941.7h0 M185.0,931.4h0 M193.0,918.6h0 M198.7,906.1h0 M204.0,892.2h0 M207.4,878.4h0 M210.5,864.1h0 M212.6,850.0h0 M214.2,836.0h0 M215.8,821.8h0 M217.4,807.4h0 M219.3,793.5h0 M221.3,796.4h0 M222.2,810.6h0 M222.6,824.9h0 M223.1,839.2h0 M223.4,853.5h0 M223.5,867.8h0 M223.8,882.0h0 M224.0,896.1h0 M224.3,910.5h0 M224.7,924.7h0 M224.8,939.0h0 M225.2,953.2h0 M225.6,967.5h0 M225.7,981.7h0 M226.0,996.0h0 M226.5,1010.3h0 M227.4,1024.5h0 M228.3,1039.0h0 M231.7,1034.5h0 M234.0,1020.9h0 M236.3,1006.9h0 M239.5,993.0h0 M243.5,978.8h0 M248.5,965.2h0 M254.6,953.2h0 M262.3,941.3h0 M270.8,929.9h0 M280.1,919.3h0 M289.6,908.7h0 M299.5,898.7h0 M309.0,888.6h0 M317.5,878.5h0 M325.4,868.0h0 M333.6,855.4h0 M341.2,844.0h0 M348.5,830.7h0 M354.8,818.1h0 M361.5,804.8h0 M368.4,792.8h0 M379.5,792.5h0 M383.9,806.4h0 M386.4,820.0h0 M388.7,834.8h0 M389.9,849.1h0 M391.5,863.3h0 M393.4,877.5h0 M394.7,891.7h0 M396.2,906.0h0 M397.5,920.2h0 M398.8,934.4h0 M400.0,948.7h0 M401.6,962.9h0 M403.5,977.1h0 M405.4,991.3h0 M407.6,1005.6h0 M411.4,1019.8h0 M416.5,1030.6h0 M427.9,1029.9h0 M437.3,1019.8h0 M445.9,1009.4h0 M454.4,998.6h0 M463.6,988.2h0 M473.4,978.7h0 M483.5,969.8h0 M495.5,960.7h0 M506.6,953.4h0 M519.6,945.6h0 M533.6,939.2h0 M547.6,932.6h0 M560.4,927.2h0 M573.5,921.9h0 M585.9,917.4h0 M599.1,912.4h0 M611.4,908.3h0 M625.0,904.2h0 M638.2,899.6h0 M650.9,895.9h0 M664.1,892.6h0 M674.8,888.9h0 M687.6,885.6h0 M701.2,882.4h0 M713.9,878.6h0 M726.7,875.4h0 M740.3,872.1h0 M753.5,868.4h0 M767.1,864.6h0 M780.2,861.4h0 M793.0,858.1h0 M806.2,853.9h0 M818.5,850.6h0 M831.7,847.4h0 M845.3,843.2h0 M858.5,839.5h0 M870.8,836.2h0 M884.0,832.5h0 M894.7,829.2h0 M907.9,825.5h0 M920.6,821.8h0" stroke="#00f" stroke-width="6.8" fill="none" stroke-linecap="round"/>
<path d="M85.19999999999999,15.7 H928.2 M86.6,542.4 H928.2" stroke="#000" stroke-width="2.8" fill="none"/>
<path d="M254.9,16.0 v5.1000000000000005 M254.9,542.1 v-5.1000000000000005 M423.2,16.0 v10.5 M423.2,542.1 v-10.5 M591.6,16.0 v5.1000000000000005 M591.6,542.1 v-5.1000000000000005 M759.9,16.0 v5.1000000000000005 M759.9,542.1 v-5.1000000000000005 " stroke="#000" stroke-width="2.8" stroke-linecap="round" fill="none"/>
<path d="M86.6,21.7 V542.4 M86.6,542.4 h10.8 M86.6,476.6 h5.4 M86.6,410.7 h10.8 M86.6,344.9 h5.4 M86.6,213.2 h5.4 M86.6,147.4 h10.8 M86.6,81.5 h5.4 " stroke="#f00" stroke-width="2.8" fill="none" stroke-linecap="round"/>
<path d="M86.6,14.299999999999999 V21.9" stroke="#000" stroke-width="2.8" fill="none"/>
<path d="M85.19999999999999,640.1 H928.2 M86.6,1166.4 H928.2" stroke="#000" stroke-width="2.8" fill="none"/>
<path d="M254.9,640.4 v5.1000000000000005 M254.9,1166.1000000000001 v-5.1000000000000005 M423.2,640.4 v10.5 M423.2,1166.1000000000001 v-10.5 M591.6,640.4 v5.1000000000000005 M591.6,1166.1000000000001 v-5.1000000000000005 M759.9,640.4 v5.1000000000000005 M759.9,1166.1000000000001 v-5.1000000000000005 " stroke="#000" stroke-width="2.8" stroke-linecap="round" fill="none"/>
<path d="M86.6,646.1 V1166.4 M86.6,1142.5 h10.8 M86.6,1022.9 h5.4 M86.6,783.6 h5.4 M86.6,664.0 h10.8 " stroke="#f00" stroke-width="2.8" fill="none" stroke-linecap="round"/>
<path d="M86.6,638.7 V646.3000000000001" stroke="#000" stroke-width="2.8" fill="none"/>
<path d="M85.3,279.2 H927.2 M85.3,903.2 H927.2" stroke="#000" stroke-width="2.8" fill="none"/>
<path d="M207.9,178.7 V210.1" stroke="#000" stroke-width="2.9" stroke-linecap="round" fill="none"/>
<path d="M201.4,208.2 H214.4 L207.9,224.1 Z" fill="#000" stroke="#000" stroke-width="0.8" stroke-linejoin="round"/>
<path d="M265.6,178.7 V210.1" stroke="#000" stroke-width="2.9" stroke-linecap="round" fill="none"/>
<path d="M259.1,208.2 H272.1 L265.6,224.1 Z" fill="#000" stroke="#000" stroke-width="0.8" stroke-linejoin="round"/>
<path d="M440.5,178.7 V210.1" stroke="#000" stroke-width="2.9" stroke-linecap="round" fill="none"/>
<path d="M434.0,208.2 H447.0 L440.5,224.1 Z" fill="#000" stroke="#000" stroke-width="0.8" stroke-linejoin="round"/>
<path d="M223.3,736 V767.2" stroke="#000" stroke-width="2.9" stroke-linecap="round" fill="none"/>
<path d="M216.8,765.3000000000001 H229.8 L223.3,781.2 Z" fill="#000" stroke="#000" stroke-width="0.8" stroke-linejoin="round"/>
<path d="M395.7,736 V767.2" stroke="#000" stroke-width="2.9" stroke-linecap="round" fill="none"/>
<path d="M389.2,765.3000000000001 H402.2 L395.7,781.2 Z" fill="#000" stroke="#000" stroke-width="0.8" stroke-linejoin="round"/>
<path d="M928.2,15.7 V542.4 M917.4000000000001,15.7 H928.2 M917.4000000000001,542.4 H928.2 M928.2,542.4 h-10.8 M928.2,476.6 h-5.4 M928.2,410.7 h-10.8 M928.2,344.9 h-5.4 M928.2,279.1 h-10.8 M928.2,213.2 h-5.4 M928.2,147.4 h-10.8 M928.2,81.5 h-5.4 M928.2,15.7 h-10.8 " stroke="#00f" stroke-width="2.8" fill="none" stroke-linecap="round"/>
<path d="M928.2,640.1 V1166.4 M917.4000000000001,640.1 H928.2 M917.4000000000001,1166.4 H928.2 M928.2,1166.4 h-10.8 M928.2,1034.8 h-5.4 M928.2,903.2 h-10.8 M928.2,771.7 h-5.4 M928.2,640.1 h-10.8 " stroke="#00f" stroke-width="2.8" fill="none" stroke-linecap="round"/>
<text x="86.6" y="582.0" font-size="37" fill="#000" text-anchor="middle" >0.1</text>
<text x="423.2" y="582.0" font-size="37" fill="#000" text-anchor="middle" >0.3</text>
<text x="928.2" y="582.0" font-size="37" fill="#000" text-anchor="middle" >0.6</text>
<g transform="translate(0,594.4)" fill="#000" stroke="#000" stroke-width="0.45"><text><tspan x="511.1" y="0.0" font-size="56" font-style="italic">w</tspan><tspan x="546.1" y="13.2" font-size="34">1</tspan> <tspan x="574.7" y="0.0" font-size="56">/</tspan> <tspan x="599.7" y="0.0" font-size="56" font-style="italic">w</tspan></text></g>
<text x="86.6" y="1206.0" font-size="37" fill="#000" text-anchor="middle" >0.1</text>
<text x="423.2" y="1206.0" font-size="37" fill="#000" text-anchor="middle" >0.3</text>
<text x="928.2" y="1206.0" font-size="37" fill="#000" text-anchor="middle" >0.6</text>
<g transform="translate(0,1218.4)" fill="#000" stroke="#000" stroke-width="0.45"><text><tspan x="511.1" y="0.0" font-size="56" font-style="italic">w</tspan><tspan x="546.1" y="13.2" font-size="34">1</tspan> <tspan x="574.7" y="0.0" font-size="56">/</tspan> <tspan x="599.7" y="0.0" font-size="56" font-style="italic">w</tspan></text></g>
<text x="75.4" y="553.1" font-size="37" fill="#f00" text-anchor="end" >-1</text>
<text x="75.4" y="421.4" font-size="37" fill="#f00" text-anchor="end" >0</text>
<text x="75.4" y="289.8" font-size="37" fill="#f00" text-anchor="end" >1</text>
<text x="75.4" y="158.1" font-size="37" fill="#f00" text-anchor="end" >2</text>
<text x="75.4" y="26.4" font-size="37" fill="#f00" text-anchor="end" >3</text>
<text x="75.4" y="1153.2" font-size="37" fill="#f00" text-anchor="end" >0</text>
<text x="75.4" y="914.0" font-size="37" fill="#f00" text-anchor="end" >1</text>
<text x="75.4" y="674.7" font-size="37" fill="#f00" text-anchor="end" >2</text>
<text x="939.5" y="552.9" font-size="37" fill="#00f" text-anchor="start" >-2</text>
<text x="939.5" y="421.2" font-size="37" fill="#00f" text-anchor="start" >-1</text>
<text x="939.5" y="289.6" font-size="37" fill="#00f" text-anchor="start" >0</text>
<text x="939.5" y="157.9" font-size="37" fill="#00f" text-anchor="start" >1</text>
<text x="939.5" y="26.2" font-size="37" fill="#00f" text-anchor="start" >2</text>
<text x="939.5" y="1176.9" font-size="37" fill="#00f" text-anchor="start" >-1</text>
<text x="939.5" y="913.8" font-size="37" fill="#00f" text-anchor="start" >0</text>
<text x="939.5" y="650.6" font-size="37" fill="#00f" text-anchor="start" >1</text>
<text x="23.1" y="65.2" font-size="48.3" fill="#000" text-anchor="start" font-weight="bold">(a)</text>
<text x="19.3" y="715.4" font-size="48" fill="#000" text-anchor="start" font-weight="bold">(b)</text>
<g transform="translate(35,0) rotate(-90) scale(1,0.97)" fill="#f00" color="#f00"><text><tspan x="-389.7" y="0.0" font-size="46">R</tspan><tspan x="-358.2" y="0.0" font-size="46">e</tspan><tspan x="-339.8" y="0.0" font-size="46">(</tspan><tspan x="-322.8" y="0.0" font-size="46" font-style="italic">Z</tspan><tspan x="-296.2" y="10.5" font-size="25" font-style="italic">e</tspan><tspan x="-281.6" y="0.0" font-size="46">)</tspan> <tspan x="-258.3" y="0.0" font-size="46">/</tspan> <tspan x="-237.7" y="0.0" font-size="46" font-style="italic">R</tspan><tspan x="-210.6" y="-1.5" font-size="46" font-style="italic" stroke="currentColor" stroke-width="1.1" stroke-linejoin="round">′</tspan><tspan x="-209.6" y="10.5" font-size="25" font-style="italic">w</tspan></text></g>
<g transform="translate(1006.5,0) rotate(-90) scale(1,0.97)" fill="#00f" color="#00f"><text><tspan x="-432.4" y="0.0" font-size="46">I</tspan><tspan x="-420.0" y="0.0" font-size="46">m</tspan><tspan x="-383.8" y="0.0" font-size="46">(</tspan><tspan x="-366.2" y="0.0" font-size="46" font-style="italic">Z</tspan><tspan x="-339.4" y="10.5" font-size="25" font-style="italic">e</tspan> <tspan x="-319.8" y="0.0" font-size="46">+</tspan> <tspan x="-283.9" y="0.0" font-size="46" font-style="italic">Z</tspan><tspan x="-257.6" y="10.5" font-size="25" font-style="italic">a</tspan><tspan x="-239.8" y="0.0" font-size="46">)</tspan> <tspan x="-216.5" y="0.0" font-size="46">/</tspan> <tspan x="-195.2" y="0.0" font-size="46" font-style="italic">R</tspan><tspan x="-168.3" y="-1.5" font-size="46" font-style="italic" stroke="currentColor" stroke-width="1.1" stroke-linejoin="round">′</tspan><tspan x="-167.1" y="10.5" font-size="25" font-style="italic">w</tspan></text></g>
<g transform="translate(35,0) rotate(-90) scale(1,0.97)" fill="#f00" color="#f00"><text><tspan x="-1013.4" y="0.0" font-size="46">R</tspan><tspan x="-981.9" y="0.0" font-size="46">e</tspan><tspan x="-963.5" y="0.0" font-size="46">(</tspan><tspan x="-946.5" y="0.0" font-size="46" font-style="italic">Z</tspan><tspan x="-919.8" y="10.5" font-size="25" font-style="italic">e</tspan><tspan x="-905.3" y="0.0" font-size="46">)</tspan> <tspan x="-882.0" y="0.0" font-size="46">/</tspan> <tspan x="-861.3" y="0.0" font-size="46" font-style="italic">R</tspan><tspan x="-834.3" y="-1.5" font-size="46" font-style="italic" stroke="currentColor" stroke-width="1.1" stroke-linejoin="round">′</tspan><tspan x="-833.2" y="10.5" font-size="25" font-style="italic">w</tspan></text></g>
<g transform="translate(1006.5,0) rotate(-90) scale(1,0.97)" fill="#00f" color="#00f"><text><tspan x="-1056.1" y="0.0" font-size="46">I</tspan><tspan x="-1043.7" y="0.0" font-size="46">m</tspan><tspan x="-1007.5" y="0.0" font-size="46">(</tspan><tspan x="-989.8" y="0.0" font-size="46" font-style="italic">Z</tspan><tspan x="-963.0" y="10.5" font-size="25" font-style="italic">e</tspan> <tspan x="-943.4" y="0.0" font-size="46">+</tspan> <tspan x="-907.5" y="0.0" font-size="46" font-style="italic">Z</tspan><tspan x="-881.2" y="10.5" font-size="25" font-style="italic">a</tspan><tspan x="-863.5" y="0.0" font-size="46">)</tspan> <tspan x="-840.1" y="0.0" font-size="46">/</tspan> <tspan x="-818.8" y="0.0" font-size="46" font-style="italic">R</tspan><tspan x="-792.0" y="-1.5" font-size="46" font-style="italic" stroke="currentColor" stroke-width="1.1" stroke-linejoin="round">′</tspan><tspan x="-790.7" y="10.5" font-size="25" font-style="italic">w</tspan></text></g>
</svg>
</body></html>
